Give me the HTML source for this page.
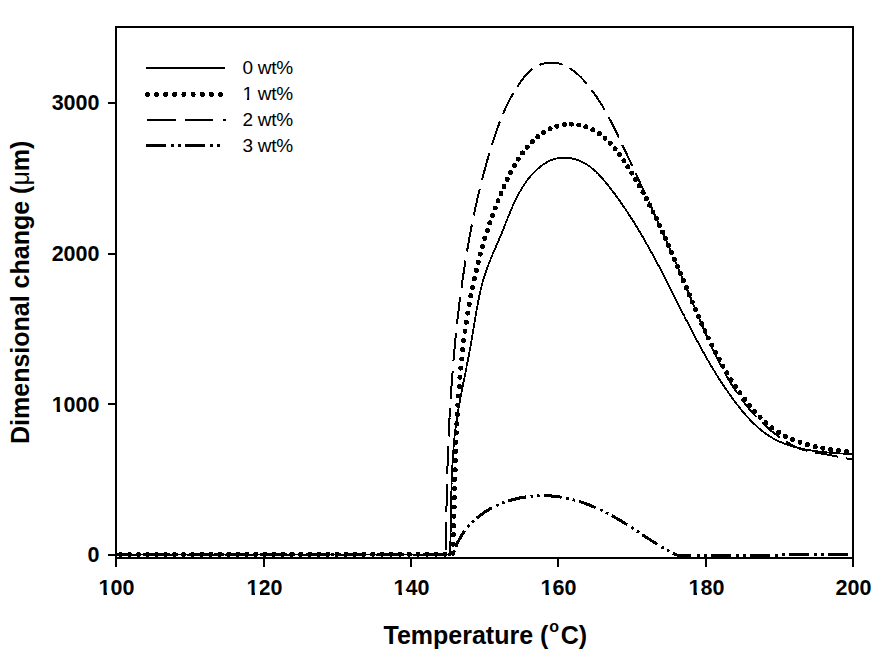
<!DOCTYPE html><html><head><meta charset="utf-8"><style>html,body{margin:0;padding:0;background:#fff;}svg{display:block;}</style></head><body><svg width="894" height="654" viewBox="0 0 894 654">
<rect width="894" height="654" fill="#fff"/>
<g fill="none" stroke="#000" stroke-linejoin="round" shape-rendering="crispEdges">
<path d="M116.0,554.5 L449.9,554.5 L450.0,553.0 L450.0,551.5 L450.1,550.0 L450.1,548.5 L450.2,547.0 L450.2,545.5 L450.3,544.0 L450.3,542.5 L450.4,541.0 L450.4,539.5 L450.4,538.0 L450.5,536.5 L450.5,535.0 L450.5,533.5 L450.6,532.1 L450.6,530.6 L450.6,529.1 L450.7,527.6 L450.7,526.1 L450.7,524.6 L450.8,523.1 L450.8,521.6 L450.8,520.1 L450.8,518.6 L450.9,517.1 L450.9,515.6 L450.9,514.1 L450.9,512.6 L451.0,511.1 L451.0,509.6 L451.0,508.1 L451.0,506.6 L451.1,505.0 L451.1,503.5 L451.1,502.0 L451.2,500.5 L451.2,499.0 L451.2,497.5 L451.3,496.0 L451.3,494.5 L451.3,493.0 L451.4,491.5 L451.4,490.0 L451.4,488.5 L451.5,487.0 L451.5,485.5 L451.6,484.0 L451.6,482.5 L451.7,481.0 L451.7,479.5 L451.8,478.0 L451.8,476.5 L451.9,475.1 L452.0,473.6 L452.0,472.1 L452.1,470.6 L452.2,469.1 L452.2,467.6 L452.3,466.1 L452.4,464.6 L452.5,463.1 L452.6,461.6 L452.7,460.1 L452.7,458.6 L452.8,457.1 L452.9,455.6 L453.0,454.1 L453.2,452.6 L453.3,451.1 L453.4,449.6 L453.5,448.1 L453.6,446.7 L453.8,445.2 L453.9,443.7 L454.0,442.2 L454.2,440.7 L454.3,439.2 L454.5,437.7 L454.6,436.2 L454.8,434.8 L455.0,433.3 L455.2,431.8 L455.3,430.3 L455.5,428.8 L455.7,427.3 L455.9,425.9 L456.1,424.4 L456.3,422.9 L456.5,421.4 L456.7,419.9 L457.0,418.5 L457.2,417.0 L457.4,415.5 L457.7,414.0 L457.9,412.6 L458.1,411.1 L458.4,409.6 L458.6,408.1 L458.9,406.7 L459.2,405.2 L459.4,403.7 L459.7,402.2 L459.9,400.8 L460.2,399.3 L460.5,397.8 L460.8,396.3 L461.0,394.9 L461.3,393.4 L461.6,391.9 L461.9,390.5 L462.2,389.0 L462.5,387.5 L462.7,386.0 L463.0,384.6 L463.3,383.1 L463.6,381.6 L463.9,380.2 L464.2,378.7 L464.5,377.2 L464.8,375.7 L465.1,374.3 L465.4,372.8 L465.7,371.3 L466.0,369.9 L466.3,368.4 L466.5,366.9 L466.8,365.4 L467.1,364.0 L467.4,362.5 L467.7,361.0 L468.0,359.5 L468.3,358.1 L468.6,356.6 L468.8,355.1 L469.1,353.6 L469.4,352.2 L469.7,350.7 L470.0,349.2 L470.2,347.7 L470.5,346.3 L470.8,344.8 L471.0,343.3 L471.3,341.8 L471.6,340.3 L471.8,338.9 L472.1,337.4 L472.3,335.9 L472.6,334.4 L472.8,332.9 L473.0,331.4 L473.3,330.0 L473.5,328.5 L473.8,327.0 L474.0,325.5 L474.3,324.0 L474.5,322.5 L474.7,321.1 L475.0,319.6 L475.2,318.1 L475.5,316.6 L475.7,315.1 L476.0,313.7 L476.2,312.2 L476.5,310.7 L476.7,309.2 L477.0,307.8 L477.3,306.3 L477.6,304.8 L477.8,303.4 L478.1,301.9 L478.4,300.4 L478.7,299.0 L479.0,297.5 L479.3,296.0 L479.6,294.6 L480.0,293.1 L480.3,291.7 L480.6,290.2 L481.0,288.8 L481.3,287.3 L481.7,285.9 L482.1,284.5 L482.4,283.0 L482.8,281.6 L483.2,280.2 L483.7,278.7 L484.1,277.3 L484.5,275.9 L485.0,274.5 L485.4,273.1 L485.9,271.7 L486.4,270.3 L486.9,268.9 L487.4,267.5 L487.9,266.1 L488.4,264.7 L489.0,263.3 L489.5,261.9 L490.1,260.5 L490.6,259.2 L491.2,257.8 L491.8,256.4 L492.3,255.0 L492.9,253.6 L493.5,252.3 L494.1,250.9 L494.7,249.5 L495.3,248.1 L495.9,246.8 L496.5,245.4 L497.1,244.0 L497.7,242.6 L498.3,241.2 L498.9,239.8 L499.4,238.5 L500.0,237.1 L500.6,235.7 L501.2,234.3 L501.8,232.9 L502.3,231.5 L502.9,230.1 L503.5,228.7 L504.0,227.3 L504.6,225.9 L505.2,224.5 L505.7,223.0 L506.3,221.6 L506.8,220.2 L507.4,218.8 L508.0,217.4 L508.5,216.0 L509.1,214.6 L509.7,213.2 L510.3,211.8 L510.8,210.4 L511.4,209.0 L512.0,207.7 L512.6,206.3 L513.2,204.9 L513.9,203.5 L514.5,202.2 L515.1,200.8 L515.8,199.5 L516.4,198.1 L517.1,196.8 L517.8,195.5 L518.5,194.2 L519.2,192.9 L519.9,191.6 L520.7,190.3 L521.4,189.0 L522.2,187.7 L523.0,186.5 L523.8,185.3 L524.6,184.0 L525.4,182.8 L526.3,181.6 L527.2,180.4 L528.1,179.2 L529.0,178.1 L530.0,176.9 L530.9,175.8 L531.9,174.7 L532.9,173.6 L534.0,172.5 L535.0,171.4 L536.1,170.4 L537.2,169.4 L538.4,168.3 L539.5,167.4 L540.7,166.4 L541.9,165.5 L543.2,164.6 L544.4,163.8 L545.7,163.0 L547.0,162.2 L548.4,161.5 L549.7,160.8 L551.1,160.2 L552.5,159.7 L553.9,159.2 L555.3,158.8 L556.8,158.4 L558.3,158.2 L559.8,157.9 L561.3,157.8 L562.8,157.7 L564.3,157.7 L565.8,157.7 L567.3,157.8 L568.9,158.0 L570.4,158.2 L571.9,158.5 L573.4,158.8 L574.8,159.2 L576.3,159.6 L577.7,160.1 L579.1,160.6 L580.5,161.2 L581.8,161.8 L583.1,162.4 L584.4,163.1 L585.7,163.8 L587.0,164.6 L588.2,165.4 L589.4,166.3 L590.6,167.1 L591.7,168.0 L592.8,169.0 L594.0,169.9 L595.1,170.9 L596.2,171.9 L597.2,173.0 L598.3,174.0 L599.3,175.1 L600.3,176.2 L601.3,177.3 L602.3,178.4 L603.3,179.6 L604.3,180.7 L605.3,181.9 L606.2,183.1 L607.2,184.2 L608.1,185.4 L609.1,186.6 L610.0,187.8 L610.9,189.0 L611.8,190.2 L612.7,191.4 L613.7,192.6 L614.6,193.8 L615.5,195.0 L616.3,196.2 L617.2,197.5 L618.1,198.7 L619.0,199.9 L619.9,201.1 L620.7,202.4 L621.6,203.6 L622.4,204.8 L623.3,206.1 L624.1,207.3 L625.0,208.6 L625.8,209.8 L626.7,211.0 L627.5,212.3 L628.3,213.6 L629.1,214.8 L629.9,216.1 L630.8,217.3 L631.6,218.6 L632.4,219.9 L633.2,221.1 L634.0,222.4 L634.7,223.7 L635.5,224.9 L636.3,226.2 L637.1,227.5 L637.9,228.8 L638.6,230.1 L639.4,231.3 L640.2,232.6 L640.9,233.9 L641.7,235.2 L642.5,236.5 L643.2,237.8 L644.0,239.1 L644.7,240.4 L645.4,241.7 L646.2,243.0 L646.9,244.3 L647.6,245.6 L648.4,246.9 L649.1,248.2 L649.8,249.5 L650.6,250.8 L651.3,252.1 L652.0,253.5 L652.7,254.8 L653.4,256.1 L654.1,257.4 L654.8,258.7 L655.6,260.0 L656.3,261.4 L657.0,262.7 L657.7,264.0 L658.4,265.3 L659.1,266.7 L659.8,268.0 L660.5,269.3 L661.1,270.6 L661.8,272.0 L662.5,273.3 L663.2,274.6 L663.9,276.0 L664.6,277.3 L665.3,278.6 L666.0,280.0 L666.6,281.3 L667.3,282.6 L668.0,284.0 L668.7,285.3 L669.4,286.6 L670.0,288.0 L670.7,289.3 L671.4,290.6 L672.1,292.0 L672.8,293.3 L673.4,294.7 L674.1,296.0 L674.8,297.3 L675.5,298.7 L676.1,300.0 L676.8,301.3 L677.5,302.7 L678.2,304.0 L678.8,305.4 L679.5,306.7 L680.2,308.0 L680.9,309.4 L681.5,310.7 L682.2,312.0 L682.9,313.4 L683.6,314.7 L684.3,316.0 L684.9,317.4 L685.6,318.7 L686.3,320.1 L687.0,321.4 L687.7,322.7 L688.4,324.1 L689.0,325.4 L689.7,326.7 L690.4,328.0 L691.1,329.4 L691.8,330.7 L692.5,332.0 L693.2,333.4 L693.9,334.7 L694.6,336.0 L695.3,337.3 L696.0,338.7 L696.7,340.0 L697.4,341.3 L698.1,342.6 L698.8,343.9 L699.5,345.3 L700.2,346.6 L701.0,347.9 L701.7,349.2 L702.4,350.5 L703.1,351.8 L703.9,353.1 L704.6,354.4 L705.3,355.7 L706.1,357.0 L706.8,358.3 L707.5,359.6 L708.3,360.9 L709.0,362.2 L709.8,363.5 L710.5,364.8 L711.3,366.1 L712.1,367.4 L712.8,368.7 L713.6,370.0 L714.4,371.2 L715.2,372.5 L716.0,373.8 L716.7,375.1 L717.5,376.3 L718.3,377.6 L719.1,378.9 L720.0,380.1 L720.8,381.4 L721.6,382.6 L722.4,383.9 L723.2,385.1 L724.1,386.4 L724.9,387.6 L725.8,388.9 L726.6,390.1 L727.5,391.3 L728.3,392.6 L729.2,393.8 L730.1,395.0 L730.9,396.2 L731.8,397.4 L732.7,398.7 L733.6,399.9 L734.5,401.1 L735.4,402.3 L736.3,403.5 L737.2,404.7 L738.2,405.9 L739.1,407.0 L740.0,408.2 L741.0,409.4 L741.9,410.6 L742.9,411.7 L743.9,412.9 L744.9,414.0 L745.8,415.2 L746.8,416.3 L747.8,417.4 L748.9,418.5 L749.9,419.6 L750.9,420.7 L752.0,421.8 L753.0,422.8 L754.1,423.9 L755.2,424.9 L756.3,425.9 L757.4,426.9 L758.5,427.9 L759.6,428.9 L760.7,429.8 L761.9,430.8 L763.0,431.7 L764.2,432.6 L765.4,433.4 L766.6,434.3 L767.8,435.1 L769.1,435.9 L770.3,436.7 L771.6,437.5 L772.8,438.2 L774.1,438.9 L775.4,439.6 L776.8,440.2 L778.1,440.9 L779.4,441.5 L780.8,442.1 L782.2,442.7 L783.5,443.2 L784.9,443.8 L786.3,444.3 L787.7,444.8 L789.2,445.3 L790.6,445.7 L792.0,446.2 L793.5,446.6 L794.9,447.0 L796.4,447.4 L797.9,447.8 L799.3,448.1 L800.8,448.5 L802.3,448.8 L803.8,449.1 L805.3,449.4 L806.8,449.7 L808.3,449.9 L809.8,450.2 L811.3,450.5 L812.8,450.7 L814.3,450.9 L815.8,451.1 L817.4,451.3 L818.9,451.5 L820.4,451.7 L821.9,451.9 L823.4,452.1 L824.9,452.2 L826.5,452.4 L828.0,452.5 L829.5,452.6 L831.0,452.8 L832.5,452.9 L834.0,453.0 L835.5,453.1 L837.0,453.2 L838.4,453.3 L839.9,453.4 L841.4,453.5 L842.8,453.6 L844.3,453.7 L845.8,453.8 L847.2,453.9 L848.6,454.0 L850.1,454.1 L851.5,454.2 L852.9,454.3" stroke-width="1.8"/>
<path d="M116.0,555.0 L117.0,555.0 L118.0,555.0 L119.0,555.0 L120.0,555.0 L121.0,555.0 L122.0,555.0 L123.0,555.0 L124.0,555.0 L125.0,555.0 L126.0,555.0 L127.0,555.0 L128.0,555.0 L129.0,555.0 L130.0,555.0 L131.0,555.0 L132.0,555.0 L133.0,555.0 L134.0,555.0 L135.0,555.0 L136.0,555.0 L137.0,555.0 L138.0,555.0 L139.0,555.0 L139.2,555.0 M148.7,555.0 L149.7,555.0 L150.7,555.0 L151.7,555.0 L152.7,555.0 L153.7,555.0 L154.7,555.0 L155.7,555.0 L156.7,555.0 L157.7,555.0 L158.7,555.0 L159.7,555.0 L160.7,555.0 L161.7,555.0 L162.7,555.0 L163.7,555.0 L164.7,555.0 L165.7,555.0 L166.7,555.0 L167.7,555.0 L168.7,555.0 L169.7,555.0 L170.7,555.0 L171.7,555.0 L172.7,555.0 L173.7,555.0 L174.7,555.0 L175.7,555.0 L176.7,555.0 L177.0,555.0 M186.5,555.0 L187.5,555.0 L188.5,555.0 L189.5,555.0 L190.5,555.0 L191.5,555.0 L192.5,555.0 L193.5,555.0 L194.5,555.0 L195.5,555.0 L196.5,555.0 L197.5,555.0 L198.5,555.0 L199.5,555.0 L200.5,555.0 L201.5,555.0 L202.5,555.0 L203.5,555.0 L204.5,555.0 L205.5,555.0 L206.5,555.0 L207.5,555.0 L208.5,555.0 L209.5,555.0 L210.5,555.0 L211.5,555.0 L212.5,555.0 L213.5,555.0 L214.5,555.0 L214.7,555.0 M224.5,555.0 L225.5,555.0 L226.5,555.0 L227.5,555.0 L228.5,555.0 L229.5,555.0 L230.5,555.0 L231.5,555.0 L232.5,555.0 L233.5,555.0 L234.5,555.0 L235.5,555.0 L236.4,555.0 L237.4,555.0 L238.4,555.0 L239.4,555.0 L240.4,555.0 L241.4,555.0 L242.4,555.0 L243.4,555.0 L244.4,555.0 L245.4,555.0 L246.4,555.0 L247.4,555.0 L248.4,555.0 L249.4,555.0 L250.4,555.0 L251.4,555.0 L252.4,555.0 L252.7,555.0 M262.2,555.0 L263.2,555.0 L264.2,555.0 L265.2,555.0 L266.2,555.0 L267.2,555.0 L268.2,555.0 L269.2,555.0 L270.2,555.0 L271.2,555.0 L272.2,555.0 L273.2,555.0 L274.2,555.0 L275.2,555.0 L276.2,555.0 L277.2,555.0 L278.2,555.0 L279.2,555.0 L280.2,555.0 L281.2,555.0 L282.2,555.0 L283.2,555.0 L284.2,555.0 L285.2,555.0 L286.2,555.0 L287.2,555.0 L288.2,555.0 L289.2,555.0 L290.2,555.0 L290.4,555.0 M299.9,555.0 L300.9,555.0 L301.9,555.0 L302.9,555.0 L303.9,555.0 L304.9,555.0 L305.9,555.0 L306.9,555.0 L307.9,555.0 L308.9,555.0 L309.9,555.0 L310.9,555.0 L311.9,555.0 L312.9,555.0 L313.9,555.0 L314.9,555.0 L315.9,555.0 L316.9,555.0 L317.9,555.0 L318.9,555.0 L319.9,555.0 L320.9,555.0 L321.9,555.0 L322.9,555.0 L323.9,555.0 L324.9,555.0 L325.9,555.0 L326.9,555.0 L327.9,555.0 L328.2,555.0 M337.7,555.0 L338.7,555.0 L339.7,555.0 L340.7,555.0 L341.7,555.0 L342.7,555.0 L343.7,555.0 L344.7,555.0 L345.7,555.0 L346.7,555.0 L347.7,555.0 L348.7,555.0 L349.7,555.0 L350.7,555.0 L351.7,555.0 L352.7,555.0 L353.7,555.0 L354.7,555.0 L355.7,555.0 L356.6,555.0 L357.6,555.0 L358.6,555.0 L359.6,555.0 L360.6,555.0 L361.6,555.0 L362.6,555.0 L363.6,555.0 L364.6,555.0 L365.6,555.0 L365.9,555.0 M375.6,555.0 L376.6,555.0 L377.6,555.0 L378.6,555.0 L379.6,555.0 L380.6,555.0 L381.6,555.0 L382.6,555.0 L383.6,555.0 L384.6,555.0 L385.6,555.0 L386.6,555.0 L387.6,555.0 L388.6,555.0 L389.6,555.0 L390.6,555.0 L391.6,555.0 L392.6,555.0 L393.6,555.0 L394.6,555.0 L395.6,555.0 L396.6,555.0 L397.6,555.0 L398.6,555.0 L399.6,555.0 L400.6,555.0 L401.6,555.0 L402.6,555.0 L403.6,555.0 L403.9,555.0 M413.4,555.0 L414.4,555.0 L415.4,555.0 L416.4,555.0 L417.4,555.0 L418.4,555.0 L419.4,555.0 L420.4,555.0 L421.4,555.0 L422.4,555.0 L423.4,555.0 L424.4,555.0 L425.4,555.0 L426.4,555.0 L427.4,555.0 L428.4,555.0 L429.4,555.0 L430.4,555.0 L431.4,555.0 L432.4,555.0 L433.4,555.0 L434.4,555.0 L435.4,555.0 L436.4,555.0 L437.4,555.0 L438.4,555.0 L439.4,555.0 L440.4,555.0 L441.4,555.0 L441.6,555.0 M445.9,549.8 L445.9,548.8 L445.9,547.8 L445.9,546.8 L445.9,545.8 L445.9,544.8 L446.0,543.8 L446.0,542.8 L446.0,541.8 L446.0,540.8 L446.0,539.8 L446.0,538.8 L446.0,537.8 L446.0,536.8 L446.0,535.8 L446.0,534.8 L446.1,533.8 L446.1,532.8 L446.1,531.8 L446.1,530.8 L446.1,529.8 L446.1,528.8 L446.1,527.8 L446.1,526.8 L446.2,525.8 L446.2,524.8 L446.2,523.8 L446.2,522.8 L446.2,521.8 L446.2,521.6 M446.4,512.1 L446.4,511.1 L446.4,510.1 L446.4,509.1 L446.4,508.1 L446.4,507.1 L446.5,506.1 L446.5,505.1 L446.5,504.1 L446.5,503.1 L446.5,502.1 L446.6,501.1 L446.6,500.1 L446.6,499.1 L446.6,498.1 L446.6,497.1 L446.7,496.1 L446.7,495.1 L446.7,494.1 L446.7,493.1 L446.8,492.1 L446.8,491.1 L446.8,490.1 L446.8,489.1 L446.9,488.1 L446.9,487.1 L446.9,486.1 L446.9,485.1 L447.0,484.1 L447.0,483.6 M447.2,474.1 L447.3,473.1 L447.3,472.1 L447.3,471.1 L447.3,470.1 L447.4,469.1 L447.4,468.1 L447.4,467.1 L447.5,466.1 L447.5,465.1 L447.5,464.1 L447.6,463.1 L447.6,462.1 L447.6,461.1 L447.7,460.1 L447.7,459.1 L447.7,458.2 L447.8,457.2 L447.8,456.2 L447.9,455.2 L447.9,454.2 L447.9,453.2 L448.0,452.2 L448.0,451.2 L448.0,450.2 L448.1,449.2 L448.1,448.2 L448.2,447.2 L448.2,446.2 L448.2,445.9 M448.6,436.5 L448.7,435.5 L448.7,434.5 L448.7,433.5 L448.8,432.5 L448.8,431.5 L448.9,430.5 L448.9,429.5 L449.0,428.5 L449.0,427.5 L449.1,426.5 L449.1,425.5 L449.2,424.5 L449.2,423.5 L449.3,422.5 L449.3,421.5 L449.4,420.5 L449.4,419.5 L449.5,418.5 L449.5,417.5 L449.6,416.5 L449.7,415.5 L449.7,414.5 L449.8,413.5 L449.8,412.5 L449.9,411.5 L449.9,410.5 L450.0,409.5 L450.0,408.5 L450.1,408.3 M450.6,398.6 L450.7,397.6 L450.8,396.6 L450.8,395.6 L450.9,394.6 L451.0,393.6 L451.0,392.6 L451.1,391.6 L451.2,390.6 L451.2,389.6 L451.3,388.6 L451.4,387.6 L451.4,386.6 L451.5,385.6 L451.6,384.6 L451.7,383.6 L451.7,382.6 L451.8,381.6 L451.9,380.7 L451.9,379.7 L452.0,378.7 L452.1,377.7 L452.2,376.7 L452.2,375.7 L452.3,374.7 L452.4,373.7 L452.5,372.7 L452.6,371.7 L452.6,370.7 L452.6,370.7 M453.4,361.3 L453.5,360.3 L453.6,359.3 L453.7,358.3 L453.7,357.3 L453.8,356.3 L453.9,355.3 L454.0,354.3 L454.1,353.3 L454.2,352.3 L454.3,351.3 L454.4,350.3 L454.5,349.3 L454.6,348.3 L454.6,347.3 L454.7,346.3 L454.8,345.3 L454.9,344.4 L455.0,343.4 L455.1,342.4 L455.2,341.4 L455.3,340.4 L455.4,339.4 L455.5,338.4 L455.6,337.4 L455.7,336.4 L455.8,335.4 L455.9,334.4 L456.0,333.4 L456.0,333.4 M457.0,324.3 L457.1,323.3 L457.2,322.3 L457.3,321.3 L457.4,320.3 L457.5,319.3 L457.6,318.3 L457.8,317.3 L457.9,316.3 L458.0,315.3 L458.1,314.3 L458.2,313.3 L458.3,312.3 L458.5,311.4 L458.6,310.4 L458.7,309.4 L458.8,308.4 L458.9,307.4 L459.1,306.4 L459.2,305.4 L459.3,304.4 L459.4,303.4 L459.5,302.4 L459.7,301.4 L459.8,300.5 L459.9,299.5 L460.0,298.5 L460.2,297.5 L460.2,297.0 M461.5,287.8 L461.6,286.8 L461.7,285.8 L461.9,284.9 L462.0,283.9 L462.1,282.9 L462.3,281.9 L462.4,280.9 L462.6,279.9 L462.7,278.9 L462.8,277.9 L463.0,276.9 L463.1,276.0 L463.3,275.0 L463.4,274.0 L463.6,273.0 L463.7,272.0 L463.9,271.0 L464.0,270.0 L464.2,269.0 L464.3,268.0 L464.5,267.1 L464.6,266.1 L464.8,265.1 L464.9,264.1 L465.1,263.1 L465.2,262.1 L465.4,261.1 L465.5,260.6 M467.0,251.5 L467.1,250.5 L467.3,249.5 L467.5,248.6 L467.6,247.6 L467.8,246.6 L468.0,245.6 L468.2,244.6 L468.3,243.6 L468.5,242.7 L468.7,241.7 L468.9,240.7 L469.0,239.7 L469.2,238.7 L469.4,237.7 L469.6,236.8 L469.8,235.8 L469.9,234.8 L470.1,233.8 L470.3,232.8 L470.5,231.8 L470.7,230.9 L470.9,229.9 L471.1,228.9 L471.2,227.9 L471.4,226.9 L471.6,226.0 L471.8,225.0 L471.9,224.5 M473.8,215.4 L474.0,214.5 L474.2,213.5 L474.4,212.5 L474.6,211.5 L474.8,210.6 L475.0,209.6 L475.2,208.6 L475.4,207.6 L475.6,206.6 L475.9,205.7 L476.1,204.7 L476.3,203.7 L476.5,202.7 L476.7,201.8 L476.9,200.8 L477.2,199.8 L477.4,198.9 L477.6,197.9 L477.8,196.9 L478.1,195.9 L478.3,195.0 L478.5,194.0 L478.8,193.0 L479.0,192.1 L479.2,191.1 L479.5,190.1 L479.7,189.1 L479.8,188.7 M482.0,179.7 L482.3,178.7 L482.5,177.8 L482.8,176.8 L483.0,175.8 L483.3,174.9 L483.6,173.9 L483.8,172.9 L484.1,172.0 L484.3,171.0 L484.6,170.1 L484.8,169.1 L485.1,168.1 L485.4,167.2 L485.6,166.2 L485.9,165.3 L486.2,164.3 L486.4,163.3 L486.7,162.4 L487.0,161.4 L487.3,160.5 L487.5,159.5 L487.8,158.5 L488.1,157.6 L488.4,156.6 L488.7,155.7 L488.9,154.7 L489.2,153.8 L489.4,153.3 M492.0,144.7 L492.3,143.7 L492.6,142.8 L492.9,141.8 L493.2,140.9 L493.5,139.9 L493.8,139.0 L494.1,138.0 L494.4,137.1 L494.7,136.2 L495.0,135.2 L495.4,134.3 L495.7,133.3 L496.0,132.4 L496.3,131.4 L496.7,130.5 L497.0,129.5 L497.3,128.6 L497.7,127.7 L498.0,126.7 L498.3,125.8 L498.7,124.9 L499.0,123.9 L499.4,123.0 L499.7,122.1 L499.9,121.6 M502.9,114.2 L503.3,113.3 L503.7,112.4 L504.1,111.5 L504.5,110.5 L504.9,109.6 L505.3,108.7 L505.7,107.8 L506.1,106.9 L506.6,106.0 L507.0,105.1 L507.4,104.3 L507.7,103.6 L508.1,102.8 L508.5,102.0 L508.9,101.2 L509.3,100.5 L509.7,99.7 L510.1,99.0 L510.5,98.2 L510.9,97.4 L511.3,96.7 L511.7,95.9 L512.1,95.2 L512.6,94.4 L513.0,93.7 L513.3,93.1 M517.4,86.5 L517.9,85.7 L518.4,85.0 L518.9,84.3 L519.4,83.5 L519.9,82.8 L520.4,82.1 L520.9,81.4 L521.4,80.7 L521.9,80.0 L522.5,79.3 L523.0,78.6 L523.5,77.9 L524.1,77.2 L524.7,76.5 L525.2,75.9 L525.8,75.2 L526.4,74.6 L527.0,73.9 L527.6,73.3 L528.2,72.7 L528.8,72.1 L529.5,71.4 L530.3,70.7 L531.0,70.1 L531.8,69.5 L532.6,68.9 L532.6,68.9 M539.6,64.9 L540.5,64.5 L541.5,64.2 L542.4,63.9 L543.4,63.6 L544.3,63.4 L545.3,63.2 L546.3,63.0 L547.3,62.9 L548.3,62.8 L549.2,62.7 L550.2,62.6 L551.2,62.6 L552.2,62.6 L553.1,62.7 L554.1,62.7 L555.0,62.8 L555.9,63.0 L556.9,63.1 L557.8,63.3 L558.7,63.5 L559.6,63.7 L560.5,64.0 L561.4,64.3 L562.3,64.6 L562.5,64.7 M569.5,68.1 L570.3,68.6 L571.2,69.2 L572.0,69.7 L572.8,70.3 L573.5,70.9 L574.3,71.5 L575.1,72.1 L575.9,72.7 L576.5,73.3 L577.2,73.8 L577.8,74.4 L578.5,75.0 L579.1,75.6 L579.7,76.2 L580.4,76.8 L581.0,77.4 L581.6,78.0 L582.2,78.7 L582.8,79.3 L583.4,80.0 L584.0,80.6 L584.6,81.3 L585.2,81.9 L585.8,82.6 L586.3,83.3 L586.8,83.8 M591.7,90.1 L592.2,90.8 L592.8,91.5 L593.3,92.2 L593.8,92.9 L594.3,93.6 L594.8,94.3 L595.3,95.0 L595.8,95.8 L596.3,96.5 L596.8,97.2 L597.3,97.9 L597.7,98.7 L598.2,99.4 L598.7,100.1 L599.2,100.8 L599.6,101.6 L600.1,102.3 L600.6,103.1 L601.0,103.8 L601.5,104.5 L601.9,105.3 L602.4,106.0 L602.8,106.7 L603.3,107.5 L603.7,108.2 L604.1,109.0 L604.6,109.7 L604.6,109.7 M608.4,116.7 L608.8,117.4 L609.2,118.2 L609.6,119.0 L610.0,119.7 L610.4,120.5 L610.9,121.3 L611.3,122.2 L611.8,123.1 L612.2,124.0 L612.7,124.9 L613.1,125.8 L613.6,126.7 L614.0,127.6 L614.5,128.5 L614.9,129.4 L615.4,130.3 L615.8,131.1 L616.2,132.0 L616.7,132.9 L617.1,133.8 L617.5,134.7 L618.0,135.6 L618.4,136.5 L618.8,137.4 L618.9,137.7 M622.3,144.9 L622.8,145.8 L623.2,146.7 L623.6,147.6 L624.0,148.5 L624.5,149.4 L624.9,150.3 L625.3,151.2 L625.7,152.1 L626.1,153.0 L626.6,153.9 L627.0,154.8 L627.4,155.7 L627.8,156.6 L628.3,157.5 L628.7,158.4 L629.1,159.2 L629.5,160.1 L629.9,161.0 L630.4,161.9 L630.8,162.8 L631.2,163.7 L631.6,164.6 L632.0,165.5 L632.3,166.0 M635.6,173.2 L636.0,174.1 L636.4,175.0 L636.9,175.9 L637.3,176.8 L637.7,177.7 L638.1,178.6 L638.5,179.5 L639.0,180.4 L639.4,181.3 L639.8,182.2 L640.2,183.1 L640.6,184.0 L641.0,184.9 L641.4,185.8 L641.9,186.7 L642.3,187.6 L642.7,188.5 L643.1,189.4 L643.5,190.3 L643.9,191.2 L644.4,192.1 L644.8,193.0 L645.2,193.9 L645.4,194.4 M648.7,201.6 L649.1,202.5 L649.5,203.4 L649.9,204.3 L650.3,205.2 L650.7,206.1 L651.2,207.0 L651.6,207.9 L652.0,208.8 L652.4,209.7 L652.8,210.6 L653.2,211.5 L653.6,212.4 L654.0,213.3 L654.4,214.2 L654.8,215.1 L655.2,216.0 L655.7,216.9 L656.1,217.8 L656.5,218.8 L656.9,219.7 L657.3,220.6 L657.7,221.5 L658.1,222.4 L658.4,223.1 M661.6,230.3 L662.0,231.2 L662.4,232.1 L662.9,233.1 L663.3,234.0 L663.7,234.9 L664.1,235.8 L664.5,236.7 L664.9,237.6 L665.3,238.5 L665.7,239.4 L666.1,240.3 L666.5,241.2 L666.9,242.2 L667.3,243.1 L667.7,244.0 L668.1,244.9 L668.5,245.8 L668.9,246.7 L669.3,247.6 L669.7,248.5 L670.1,249.5 L670.5,250.4 L670.9,251.3 L671.0,251.5 M674.2,258.9 L674.5,259.8 L674.9,260.7 L675.3,261.6 L675.7,262.4 L676.0,263.2 L676.4,264.0 L676.7,264.8 L677.0,265.5 L677.4,266.3 L677.7,267.1 L678.0,267.9 L678.4,268.7 L678.7,269.5 L679.1,270.3 L679.4,271.1 L679.7,271.9 L680.1,272.7 L680.4,273.4 L680.7,274.2 L681.1,275.0 L681.4,275.8 L681.7,276.6 L682.1,277.4 L682.4,278.2 L682.7,279.0 L683.1,279.8 L683.3,280.4 M686.3,287.5 L686.7,288.3 L687.0,289.1 L687.3,289.9 L687.7,290.7 L688.0,291.5 L688.3,292.3 L688.7,293.1 L689.0,293.9 L689.3,294.7 L689.6,295.5 L690.0,296.3 L690.3,297.1 L690.6,297.9 L691.0,298.7 L691.3,299.5 L691.6,300.3 L692.0,301.1 L692.3,301.9 L692.6,302.7 L692.9,303.5 L693.3,304.3 L693.6,305.1 L693.9,305.9 L694.3,306.7 L694.6,307.5 L694.9,308.3 L695.3,309.1 L695.3,309.1 M698.3,316.3 L698.6,317.1 L698.9,317.9 L699.3,318.7 L699.6,319.5 L699.9,320.3 L700.3,321.1 L700.6,321.9 L700.9,322.7 L701.3,323.5 L701.6,324.3 L701.9,325.1 L702.3,325.9 L702.6,326.7 L703.0,327.5 L703.3,328.3 L703.7,329.1 L704.0,329.9 L704.3,330.7 L704.7,331.5 L705.0,332.3 L705.4,333.1 L705.7,333.9 L706.1,334.7 L706.4,335.5 L706.8,336.3 L707.1,337.0 L707.5,337.8 L707.5,337.8 M710.7,344.9 L711.0,345.7 L711.4,346.5 L711.8,347.3 L712.1,348.0 L712.5,348.8 L712.9,349.6 L713.2,350.4 L713.6,351.1 L714.0,351.9 L714.3,352.7 L714.7,353.5 L715.1,354.2 L715.5,355.0 L715.8,355.8 L716.2,356.5 L716.6,357.3 L717.0,358.2 L717.5,359.1 L717.9,360.0 L718.4,360.9 L718.8,361.8 L719.3,362.7 L719.8,363.5 L720.2,364.4 L720.7,365.3 L720.9,365.7 M724.7,372.7 L725.2,373.6 L725.7,374.5 L726.2,375.3 L726.7,376.2 L727.2,377.0 L727.7,377.9 L728.2,378.7 L728.7,379.6 L729.2,380.4 L729.7,381.3 L730.2,382.1 L730.7,383.0 L731.2,383.8 L731.8,384.6 L732.3,385.5 L732.8,386.3 L733.3,387.1 L733.9,388.0 L734.4,388.8 L734.9,389.6 L735.5,390.4 L736.0,391.2 L736.6,392.1 L736.9,392.5 M741.5,399.1 L742.1,399.9 L742.7,400.6 L743.3,401.4 L743.9,402.2 L744.5,403.0 L745.1,403.7 L745.7,404.5 L746.3,405.3 L746.9,406.0 L747.5,406.8 L748.2,407.6 L748.8,408.3 L749.4,409.1 L750.0,409.8 L750.7,410.6 L751.3,411.3 L752.0,412.0 L752.6,412.8 L753.3,413.5 L753.9,414.2 L754.6,415.0 L755.2,415.7 L755.9,416.4 L756.4,416.9 M762.0,422.5 L762.7,423.2 L763.4,423.9 L764.1,424.6 L764.8,425.2 L765.6,425.9 L766.3,426.6 L767.1,427.2 L767.8,427.9 L768.6,428.5 L769.3,429.2 L770.1,429.8 L770.8,430.5 L771.6,431.1 L772.3,431.7 L773.0,432.2 L773.7,432.8 L774.3,433.3 L775.0,433.8 L775.7,434.4 L776.4,434.9 L777.1,435.4 L777.8,435.9 L778.5,436.4 L779.2,436.9 L779.7,437.3 M786.2,441.7 L787.0,442.1 L787.7,442.6 L788.5,443.0 L789.2,443.5 L790.0,443.9 L790.7,444.3 L791.5,444.7 L792.3,445.1 L793.0,445.5 L793.8,445.9 L794.6,446.3 L795.4,446.7 L796.2,447.0 L796.9,447.4 L797.7,447.7 L798.5,448.0 L799.3,448.4 L800.1,448.7 L801.0,449.0 L802.0,449.3 L802.9,449.7 L803.9,450.0 L804.8,450.2 L805.8,450.5 L806.7,450.8 L807.5,451.0 M815.3,452.6 L816.3,452.8 L817.2,452.9 L818.2,453.1 L819.2,453.3 L820.2,453.4 L821.2,453.6 L822.2,453.8 L823.2,453.9 L824.1,454.1 L825.1,454.3 L826.1,454.4 L827.1,454.6 L828.1,454.8 L829.1,455.0 L830.0,455.2 L831.0,455.3 L832.0,455.5 L833.0,455.7 L834.0,455.9 L834.9,456.1 L835.9,456.3 L836.9,456.5 L837.9,456.7 L838.1,456.7 M845.9,458.3 L846.9,458.5 L847.9,458.7 L848.8,458.9 L849.8,459.1 L850.8,459.3 L851.8,459.5 L852.7,459.7 L853.0,459.7" stroke-width="2"/>
<g fill="#000" stroke="none"><circle cx="120.7" cy="554.5" r="2.5"/><circle cx="129.7" cy="554.5" r="2.5"/><circle cx="138.7" cy="554.5" r="2.5"/><circle cx="147.7" cy="554.5" r="2.5"/><circle cx="156.7" cy="554.5" r="2.5"/><circle cx="165.7" cy="554.5" r="2.5"/><circle cx="174.7" cy="554.5" r="2.5"/><circle cx="183.7" cy="554.5" r="2.5"/><circle cx="192.7" cy="554.5" r="2.5"/><circle cx="201.7" cy="554.4" r="2.5"/><circle cx="210.7" cy="554.4" r="2.5"/><circle cx="219.7" cy="554.4" r="2.5"/><circle cx="228.7" cy="554.4" r="2.5"/><circle cx="237.7" cy="554.4" r="2.5"/><circle cx="246.7" cy="554.4" r="2.5"/><circle cx="255.7" cy="554.4" r="2.5"/><circle cx="264.7" cy="554.4" r="2.5"/><circle cx="273.7" cy="554.4" r="2.5"/><circle cx="282.7" cy="554.4" r="2.5"/><circle cx="291.7" cy="554.4" r="2.5"/><circle cx="300.7" cy="554.4" r="2.5"/><circle cx="309.7" cy="554.4" r="2.5"/><circle cx="318.7" cy="554.4" r="2.5"/><circle cx="327.7" cy="554.4" r="2.5"/><circle cx="336.9" cy="554.4" r="2.5"/><circle cx="345.9" cy="554.4" r="2.5"/><circle cx="354.9" cy="554.4" r="2.5"/><circle cx="363.9" cy="554.4" r="2.5"/><circle cx="372.9" cy="554.3" r="2.5"/><circle cx="381.9" cy="554.3" r="2.5"/><circle cx="390.9" cy="554.3" r="2.5"/><circle cx="399.9" cy="554.3" r="2.5"/><circle cx="408.9" cy="554.3" r="2.5"/><circle cx="417.9" cy="554.3" r="2.5"/><circle cx="426.9" cy="554.3" r="2.5"/><circle cx="435.9" cy="554.3" r="2.5"/><circle cx="444.9" cy="554.3" r="2.5"/><circle cx="452.9" cy="553.3" r="2.5"/><circle cx="453.2" cy="544.2" r="2.5"/><circle cx="453.4" cy="534.8" r="2.5"/><circle cx="453.7" cy="525.6" r="2.5"/><circle cx="453.9" cy="516.2" r="2.5"/><circle cx="454.1" cy="507.0" r="2.5"/><circle cx="454.3" cy="497.7" r="2.5"/><circle cx="454.5" cy="488.5" r="2.5"/><circle cx="454.8" cy="479.3" r="2.5"/><circle cx="455.1" cy="469.9" r="2.5"/><circle cx="455.3" cy="460.6" r="2.5"/><circle cx="455.7" cy="451.4" r="2.5"/><circle cx="456.0" cy="442.1" r="2.5"/><circle cx="456.4" cy="432.9" r="2.5"/><circle cx="456.8" cy="423.7" r="2.5"/><circle cx="457.3" cy="414.4" r="2.5"/><circle cx="457.9" cy="405.2" r="2.5"/><circle cx="458.5" cy="396.0" r="2.5"/><circle cx="459.2" cy="386.5" r="2.5"/><circle cx="459.9" cy="377.3" r="2.5"/><circle cx="460.7" cy="368.1" r="2.5"/><circle cx="461.7" cy="359.0" r="2.5"/><circle cx="462.7" cy="349.7" r="2.5"/><circle cx="463.8" cy="340.5" r="2.5"/><circle cx="465.0" cy="331.3" r="2.5"/><circle cx="466.3" cy="322.2" r="2.5"/><circle cx="467.7" cy="313.1" r="2.5"/><circle cx="469.2" cy="304.3" r="2.5"/><circle cx="470.8" cy="295.7" r="2.5"/><circle cx="472.5" cy="287.2" r="2.5"/><circle cx="474.3" cy="278.7" r="2.5"/><circle cx="476.2" cy="270.4" r="2.5"/><circle cx="478.2" cy="262.3" r="2.5"/><circle cx="480.3" cy="254.1" r="2.5"/><circle cx="482.5" cy="246.2" r="2.5"/><circle cx="484.8" cy="238.3" r="2.5"/><circle cx="487.3" cy="230.5" r="2.5"/><circle cx="489.8" cy="222.8" r="2.5"/><circle cx="492.5" cy="215.3" r="2.5"/><circle cx="495.2" cy="208.0" r="2.5"/><circle cx="498.0" cy="200.8" r="2.5"/><circle cx="501.0" cy="193.6" r="2.5"/><circle cx="504.0" cy="186.6" r="2.5"/><circle cx="507.3" cy="179.4" r="2.5"/><circle cx="510.7" cy="172.5" r="2.5"/><circle cx="514.4" cy="165.6" r="2.5"/><circle cx="518.3" cy="159.1" r="2.5"/><circle cx="522.5" cy="152.9" r="2.5"/><circle cx="527.1" cy="147.1" r="2.5"/><circle cx="532.2" cy="141.6" r="2.5"/><circle cx="537.8" cy="136.7" r="2.5"/><circle cx="543.6" cy="132.5" r="2.5"/><circle cx="550.1" cy="128.8" r="2.5"/><circle cx="556.9" cy="126.1" r="2.5"/><circle cx="564.2" cy="124.5" r="2.5"/><circle cx="571.4" cy="124.1" r="2.5"/><circle cx="578.8" cy="125.0" r="2.5"/><circle cx="585.9" cy="126.9" r="2.5"/><circle cx="592.8" cy="129.9" r="2.5"/><circle cx="599.2" cy="133.6" r="2.5"/><circle cx="605.0" cy="138.2" r="2.5"/><circle cx="610.2" cy="143.2" r="2.5"/><circle cx="615.1" cy="148.7" r="2.5"/><circle cx="619.6" cy="154.6" r="2.5"/><circle cx="623.9" cy="160.7" r="2.5"/><circle cx="627.9" cy="166.8" r="2.5"/><circle cx="631.8" cy="173.1" r="2.5"/><circle cx="635.6" cy="179.5" r="2.5"/><circle cx="639.3" cy="185.8" r="2.5"/><circle cx="642.9" cy="192.3" r="2.5"/><circle cx="646.3" cy="198.7" r="2.5"/><circle cx="649.7" cy="205.2" r="2.5"/><circle cx="653.0" cy="212.0" r="2.5"/><circle cx="656.2" cy="218.5" r="2.5"/><circle cx="659.4" cy="225.3" r="2.5"/><circle cx="662.5" cy="232.0" r="2.5"/><circle cx="665.5" cy="238.8" r="2.5"/><circle cx="668.5" cy="245.7" r="2.5"/><circle cx="671.5" cy="252.5" r="2.5"/><circle cx="674.4" cy="259.3" r="2.5"/><circle cx="677.4" cy="266.4" r="2.5"/><circle cx="680.4" cy="273.5" r="2.5"/><circle cx="683.3" cy="280.6" r="2.5"/><circle cx="686.3" cy="287.7" r="2.5"/><circle cx="689.3" cy="294.8" r="2.5"/><circle cx="692.3" cy="302.0" r="2.5"/><circle cx="695.5" cy="309.3" r="2.5"/><circle cx="698.6" cy="316.5" r="2.5"/><circle cx="701.8" cy="323.7" r="2.5"/><circle cx="705.0" cy="330.8" r="2.5"/><circle cx="708.4" cy="338.0" r="2.5"/><circle cx="711.9" cy="345.1" r="2.5"/><circle cx="715.5" cy="352.2" r="2.5"/><circle cx="719.2" cy="359.3" r="2.5"/><circle cx="722.9" cy="366.1" r="2.5"/><circle cx="726.9" cy="372.9" r="2.5"/><circle cx="731.1" cy="379.7" r="2.5"/><circle cx="735.4" cy="386.4" r="2.5"/><circle cx="739.9" cy="392.9" r="2.5"/><circle cx="744.6" cy="399.3" r="2.5"/><circle cx="749.5" cy="405.6" r="2.5"/><circle cx="754.6" cy="411.5" r="2.5"/><circle cx="760.1" cy="417.3" r="2.5"/><circle cx="765.8" cy="422.7" r="2.5"/><circle cx="771.9" cy="427.7" r="2.5"/><circle cx="778.6" cy="432.3" r="2.5"/><circle cx="785.4" cy="436.2" r="2.5"/><circle cx="792.6" cy="439.6" r="2.5"/><circle cx="800.0" cy="442.4" r="2.5"/><circle cx="807.4" cy="444.7" r="2.5"/><circle cx="815.2" cy="446.7" r="2.5"/><circle cx="822.8" cy="448.2" r="2.5"/><circle cx="830.7" cy="449.6" r="2.5"/><circle cx="838.6" cy="450.6" r="2.5"/><circle cx="846.6" cy="451.4" r="2.5"/></g>
<path d="M116.0,554.5 L117.0,554.5 L118.0,554.5 L119.0,554.5 L120.0,554.5 L121.0,554.5 L122.0,554.5 L123.0,554.5 L124.0,554.5 L125.0,554.5 L126.0,554.5 L127.0,554.5 L128.0,554.5 L129.0,554.5 L130.0,554.5 L131.0,554.5 L131.0,554.5 M136.2,554.5 L137.2,554.5 L138.2,554.5 L139.0,554.5 M143.2,554.5 L144.2,554.5 L145.2,554.5 L146.0,554.5 M150.2,554.5 L151.2,554.5 L152.2,554.5 L153.2,554.5 L154.2,554.5 L155.2,554.5 L156.2,554.5 L157.2,554.5 L158.2,554.5 L159.2,554.5 L160.2,554.5 L161.2,554.5 L162.2,554.5 L163.2,554.5 L164.2,554.5 L165.2,554.5 L166.2,554.5 L167.2,554.5 L168.2,554.5 L169.2,554.5 L170.0,554.5 M175.2,554.5 L176.2,554.5 L177.2,554.5 L178.0,554.5 M182.2,554.6 L183.2,554.6 L184.2,554.6 L185.0,554.6 M189.2,554.6 L190.2,554.6 L191.2,554.6 L192.2,554.6 L193.2,554.6 L194.2,554.6 L195.2,554.6 L196.2,554.6 L197.2,554.6 L198.2,554.6 L199.2,554.6 L200.2,554.6 L201.2,554.6 L202.2,554.6 L203.2,554.6 L204.2,554.6 L205.2,554.6 L206.2,554.6 L207.2,554.6 L208.2,554.6 L208.9,554.6 M214.2,554.6 L215.2,554.6 L216.2,554.6 L216.9,554.6 M221.2,554.6 L222.2,554.6 L223.2,554.6 L223.9,554.6 M228.2,554.6 L229.2,554.6 L230.2,554.6 L231.2,554.6 L232.2,554.6 L233.2,554.6 L234.2,554.6 L235.2,554.6 L236.2,554.6 L237.2,554.6 L238.2,554.6 L239.2,554.6 L240.2,554.6 L241.2,554.6 L242.2,554.6 L243.2,554.6 L244.2,554.6 L245.2,554.6 L246.2,554.6 L247.2,554.6 L247.9,554.6 M253.2,554.6 L254.2,554.6 L255.2,554.6 L255.9,554.6 M260.2,554.6 L261.2,554.6 L262.2,554.6 L262.9,554.6 M267.2,554.6 L268.2,554.6 L269.2,554.6 L270.2,554.6 L271.2,554.6 L272.2,554.6 L273.2,554.6 L274.2,554.6 L275.2,554.6 L276.2,554.6 L277.2,554.6 L278.2,554.6 L279.2,554.6 L280.2,554.6 L281.2,554.6 L282.2,554.6 L283.2,554.6 L284.2,554.6 L285.2,554.6 L286.2,554.6 L286.9,554.6 M292.1,554.6 L293.1,554.6 L294.1,554.6 L294.9,554.6 M299.1,554.6 L300.1,554.6 L301.1,554.6 L301.9,554.6 M306.1,554.6 L307.1,554.6 L308.1,554.6 L309.1,554.6 L310.1,554.6 L311.1,554.6 L312.1,554.6 L313.1,554.7 L314.1,554.7 L315.1,554.7 L316.1,554.7 L317.1,554.7 L318.1,554.7 L319.1,554.7 L320.1,554.7 L321.1,554.7 L322.1,554.7 L323.1,554.7 L324.1,554.7 L325.1,554.7 L325.9,554.7 M331.1,554.7 L332.1,554.7 L333.1,554.7 L333.9,554.7 M338.1,554.7 L339.1,554.7 L340.1,554.7 L340.9,554.7 M345.1,554.7 L346.1,554.7 L347.1,554.7 L348.1,554.7 L349.1,554.7 L350.1,554.7 L351.1,554.7 L352.1,554.7 L353.1,554.7 L354.1,554.7 L355.1,554.7 L356.1,554.7 L357.1,554.7 L358.1,554.7 L359.1,554.7 L360.1,554.7 L361.1,554.7 L362.1,554.7 L363.1,554.7 L364.1,554.7 L364.9,554.7 M370.1,554.7 L371.1,554.7 L372.1,554.7 L372.9,554.7 M377.1,554.7 L378.1,554.7 L379.1,554.7 L379.8,554.7 M384.1,554.7 L385.1,554.7 L386.1,554.7 L387.1,554.7 L388.1,554.7 L389.1,554.7 L390.1,554.7 L391.1,554.7 L392.1,554.7 L393.1,554.7 L394.1,554.7 L395.1,554.7 L396.1,554.7 L397.1,554.7 L398.1,554.7 L399.1,554.7 L400.1,554.7 L401.1,554.7 L402.1,554.7 L403.1,554.7 L403.8,554.7 M409.1,554.7 L410.1,554.7 L411.1,554.7 L411.8,554.7 M416.1,554.7 L417.1,554.7 L418.1,554.7 L418.8,554.7 M423.1,554.7 L424.1,554.7 L425.1,554.7 L426.1,554.7 L427.1,554.7 L428.1,554.7 L429.1,554.7 L430.1,554.7 L431.1,554.7 L432.1,554.7 L433.1,554.7 L434.1,554.7 L435.1,554.7 L436.1,554.7 L437.1,554.7 L438.1,554.7 L439.1,554.7 L440.1,554.7 L441.1,554.7 L442.1,554.7 L442.8,554.7 M448.1,554.8 L449.1,554.8 L450.1,554.8 L450.8,554.8 M453.6,552.8 L453.9,551.9 L454.2,551.1 L454.5,550.2 L454.5,550.2 M455.9,546.7 L456.2,545.8 L456.5,545.0 L456.9,544.2 L457.3,543.4 L457.6,542.6 L458.0,541.9 L458.4,541.1 L458.8,540.3 L459.2,539.5 L459.6,538.8 L460.1,538.0 L460.5,537.3 L460.9,536.6 L461.4,535.7 L462.0,534.9 L462.5,534.1 L463.1,533.2 L463.6,532.4 L464.2,531.6 L464.8,530.8 L464.8,530.8 M467.7,527.2 L468.3,526.4 L469.0,525.7 L469.5,525.1 M472.2,522.3 L472.9,521.6 L473.6,520.9 L474.0,520.6 M476.9,518.0 L477.6,517.4 L478.4,516.8 L479.2,516.2 L479.9,515.6 L480.7,515.0 L481.5,514.4 L482.3,513.8 L483.1,513.3 L483.9,512.7 L484.7,512.2 L485.5,511.6 L486.4,511.1 L487.2,510.6 L488.0,510.1 L488.9,509.6 L489.7,509.1 L490.6,508.6 L491.5,508.1 L491.9,507.9 M496.3,505.7 L497.2,505.3 L498.1,504.9 L498.6,504.7 M502.2,503.1 L503.2,502.8 L504.1,502.4 L504.6,502.3 M508.3,501.0 L509.3,500.7 L510.2,500.4 L511.2,500.1 L512.1,499.9 L512.9,499.6 L513.7,499.4 L514.5,499.2 L515.4,499.0 L516.2,498.8 L517.0,498.6 L517.9,498.4 L518.7,498.2 L519.6,498.0 L520.4,497.9 L521.3,497.7 L522.1,497.5 L522.9,497.4 L523.8,497.2 L524.6,497.1 L525.5,497.0 L525.9,496.9 M530.6,496.3 L531.5,496.2 L532.3,496.2 L533.2,496.1 L533.2,496.1 M537.1,495.8 L537.9,495.8 L538.8,495.8 L539.6,495.7 L539.6,495.7 M543.5,495.7 L544.4,495.7 L545.4,495.7 L546.4,495.8 L547.4,495.8 L548.4,495.8 L549.4,495.9 L550.4,495.9 L551.4,496.0 L552.4,496.1 L553.3,496.2 L554.3,496.3 L555.3,496.4 L556.3,496.5 L557.3,496.6 L558.3,496.8 L559.3,496.9 L560.2,497.0 L561.2,497.2 L561.7,497.3 M566.3,498.1 L567.3,498.3 L568.2,498.5 L569.0,498.7 M572.6,499.6 L573.5,499.8 L574.5,500.1 L575.2,500.3 M579.0,501.4 L579.9,501.7 L580.8,502.0 L581.8,502.3 L582.7,502.6 L583.7,502.9 L584.6,503.3 L585.5,503.6 L586.5,503.9 L587.4,504.3 L588.3,504.6 L589.2,505.0 L590.2,505.4 L591.1,505.7 L592.0,506.1 L592.9,506.5 L593.8,506.9 L594.8,507.2 L595.7,507.6 L595.9,507.7 M600.2,509.7 L601.1,510.1 L602.0,510.6 L602.5,510.8 M606.0,512.5 L606.9,513.0 L607.8,513.5 L608.2,513.7 M611.8,515.6 L612.5,516.0 L613.3,516.4 L614.0,516.8 L614.8,517.3 L615.5,517.7 L616.3,518.1 L617.0,518.5 L617.8,519.0 L618.5,519.4 L619.2,519.9 L620.0,520.3 L620.7,520.7 L621.4,521.2 L622.2,521.6 L622.9,522.1 L623.6,522.5 L624.4,523.0 L625.1,523.4 L626.0,524.0 L626.8,524.5 L627.2,524.8 M631.4,527.5 L632.3,528.0 L633.1,528.6 L633.5,528.8 M636.9,531.0 L637.7,531.6 L638.5,532.1 L639.0,532.4 M642.3,534.6 L643.1,535.1 L643.9,535.7 L644.8,536.2 L645.6,536.8 L646.4,537.3 L647.3,537.9 L648.1,538.4 L648.9,538.9 L649.8,539.5 L650.6,540.0 L651.4,540.6 L652.2,541.1 L653.1,541.6 L653.9,542.1 L654.7,542.7 L655.6,543.2 L656.4,543.7 L657.3,544.2 L657.5,544.4 M661.7,546.9 L662.5,547.4 L663.3,547.9 L663.8,548.1 M667.2,550.1 L668.0,550.5 L668.9,551.0 L669.5,551.3 M672.9,553.1 L673.8,553.6 L674.7,554.0 L675.5,554.4 L676.4,554.8 L677.3,555.2 L678.2,555.5 L679.2,555.5 L680.2,555.5 L681.2,555.5 L682.2,555.5 L683.2,555.5 L684.2,555.5 L685.2,555.5 L686.2,555.5 L687.2,555.5 L688.2,555.5 L689.2,555.5 L690.2,555.5 L691.2,555.5 L691.4,555.5 M696.9,555.4 L697.9,555.4 L698.9,555.4 L699.7,555.4 M703.9,555.4 L704.9,555.4 L705.9,555.4 L706.7,555.4 M710.9,555.4 L711.9,555.3 L712.9,555.3 L713.9,555.3 L714.9,555.3 L715.9,555.3 L716.9,555.3 L717.9,555.3 L718.9,555.3 L719.9,555.3 L720.9,555.3 L721.9,555.3 L722.9,555.3 L723.9,555.3 L724.9,555.3 L725.9,555.3 L726.9,555.3 L727.9,555.2 L728.9,555.2 L729.9,555.2 L730.6,555.2 M735.9,555.2 L736.9,555.2 L737.9,555.2 L738.6,555.2 M742.9,555.2 L743.9,555.2 L744.9,555.1 L745.6,555.1 M749.9,555.1 L750.9,555.1 L751.9,555.1 L752.9,555.1 L753.9,555.1 L754.9,555.1 L755.9,555.1 L756.8,555.1 L757.8,555.1 L758.8,555.1 L759.8,555.1 L760.8,555.1 L761.8,555.0 L762.8,555.0 L763.8,555.0 L764.8,555.0 L765.8,555.0 L766.8,555.0 L767.8,555.0 L768.8,555.0 L769.6,555.0 M774.8,555.0 L775.8,555.0 L776.8,555.0 L777.6,555.0 M781.8,554.9 L782.8,554.9 L783.8,554.9 L784.6,554.9 M788.8,554.9 L789.8,554.9 L790.8,554.9 L791.8,554.9 L792.8,554.9 L793.8,554.9 L794.8,554.8 L795.8,554.8 L796.8,554.8 L797.8,554.8 L798.8,554.8 L799.8,554.8 L800.8,554.8 L801.8,554.8 L802.8,554.8 L803.8,554.8 L804.8,554.8 L805.8,554.8 L806.8,554.8 L807.8,554.8 L808.5,554.8 M813.8,554.7 L814.8,554.7 L815.8,554.7 L816.5,554.7 M820.8,554.7 L821.8,554.7 L822.8,554.7 L823.5,554.7 M827.8,554.7 L828.8,554.6 L829.8,554.6 L830.8,554.6 L831.8,554.6 L832.8,554.6 L833.8,554.6 L834.8,554.6 L835.8,554.6 L836.8,554.6 L837.8,554.6 L838.8,554.6 L839.8,554.6 L840.8,554.6 L841.8,554.6 L842.8,554.6 L843.8,554.6 L844.8,554.5 L845.8,554.5 L846.8,554.5 L847.5,554.5 M852.8,554.5 L853.0,554.5" stroke-width="3"/>
</g>
<rect x="116" y="27" width="737" height="531" fill="none" stroke="#000" stroke-width="2" shape-rendering="crispEdges"/>
<path d="M108,555 H116 M108,404.3 H116 M108,253.7 H116 M108,103 H116 M116,557 V567 M264,557 V567 M411,557 V567 M558,557 V567 M706,557 V567 M853,557 V567" stroke="#000" stroke-width="2" fill="none" shape-rendering="crispEdges"/>
<text x="99.5" y="562.2" text-anchor="end" font-family='"Liberation Sans", sans-serif' font-weight="bold" font-size="21.5">0</text>
<text x="99.5" y="411.5" text-anchor="end" font-family='"Liberation Sans", sans-serif' font-weight="bold" font-size="21.5">1000</text>
<text x="99.5" y="260.9" text-anchor="end" font-family='"Liberation Sans", sans-serif' font-weight="bold" font-size="21.5">2000</text>
<text x="99.5" y="110.2" text-anchor="end" font-family='"Liberation Sans", sans-serif' font-weight="bold" font-size="21.5">3000</text>
<text x="116.5" y="594.6" text-anchor="middle" font-family='"Liberation Sans", sans-serif' font-weight="bold" font-size="21.5">100</text>
<text x="264.5" y="594.6" text-anchor="middle" font-family='"Liberation Sans", sans-serif' font-weight="bold" font-size="21.5">120</text>
<text x="411.5" y="594.6" text-anchor="middle" font-family='"Liberation Sans", sans-serif' font-weight="bold" font-size="21.5">140</text>
<text x="558.5" y="594.6" text-anchor="middle" font-family='"Liberation Sans", sans-serif' font-weight="bold" font-size="21.5">160</text>
<text x="706.5" y="594.6" text-anchor="middle" font-family='"Liberation Sans", sans-serif' font-weight="bold" font-size="21.5">180</text>
<text x="853.5" y="594.6" text-anchor="middle" font-family='"Liberation Sans", sans-serif' font-weight="bold" font-size="21.5">200</text>
<text x="383.5" y="643.5" font-family='"Liberation Sans", sans-serif' font-weight="bold" font-size="25">Temperature (<tspan font-size="16" dy="-11.5" dx="1">o</tspan><tspan dy="11.5" dx="1.5">C)</tspan></text>
<text transform="translate(29,444) rotate(-90)" font-family='"Liberation Sans", sans-serif' font-weight="bold" font-size="25">Dimensional change (<tspan font-weight="normal">μ</tspan>m)</text>
<g fill="none" stroke="#000" shape-rendering="crispEdges">
<path d="M146,68 H225" stroke-width="2"/>
<g fill="#000" stroke="none"><circle cx="147.5" cy="94.4" r="2.5"/><circle cx="156.6" cy="94.4" r="2.5"/><circle cx="165.7" cy="94.4" r="2.5"/><circle cx="174.8" cy="94.4" r="2.5"/><circle cx="183.9" cy="94.4" r="2.5"/><circle cx="193.1" cy="94.4" r="2.5"/><circle cx="202.2" cy="94.4" r="2.5"/><circle cx="211.3" cy="94.4" r="2.5"/><circle cx="220.4" cy="94.4" r="2.5"/></g>
<path d="M147,120 H226" stroke-width="2" stroke-dasharray="28.5 9.3"/>
<path d="M146,145.5 H224" stroke-width="3" stroke-dasharray="20 5 3 4 3 4"/>
</g>
<text x="242.5" y="73.8" font-family='"Liberation Sans", sans-serif' font-size="19" letter-spacing="-0.25">0 wt%</text>
<text x="242.5" y="99.69999999999999" font-family='"Liberation Sans", sans-serif' font-size="19" letter-spacing="-0.25">1 wt%</text>
<text x="242.5" y="125.6" font-family='"Liberation Sans", sans-serif' font-size="19" letter-spacing="-0.25">2 wt%</text>
<text x="242.5" y="151.5" font-family='"Liberation Sans", sans-serif' font-size="19" letter-spacing="-0.25">3 wt%</text>
<g fill="#fff" shape-rendering="crispEdges"><rect x="64" y="408" width="1" height="1" fill="rgb(255,255,255)"/><rect x="53" y="409" width="1" height="1" fill="rgb(255,255,255)"/><rect x="54" y="409" width="1" height="1" fill="rgb(255,255,255)"/><rect x="55" y="409" width="1" height="1" fill="rgb(255,255,255)"/><rect x="56" y="409" width="1" height="1" fill="rgb(195,195,195)"/><rect x="60" y="409" width="1" height="1" fill="rgb(241,241,241)"/><rect x="61" y="409" width="1" height="1" fill="rgb(255,255,255)"/><rect x="62" y="409" width="1" height="1" fill="rgb(255,255,255)"/><rect x="63" y="409" width="1" height="1" fill="rgb(255,255,255)"/><rect x="64" y="409" width="1" height="1" fill="rgb(255,255,255)"/><rect x="52" y="410" width="1" height="1" fill="rgb(255,255,255)"/><rect x="53" y="410" width="1" height="1" fill="rgb(255,255,255)"/><rect x="54" y="410" width="1" height="1" fill="rgb(255,255,255)"/><rect x="55" y="410" width="1" height="1" fill="rgb(255,255,255)"/><rect x="56" y="410" width="1" height="1" fill="rgb(195,195,195)"/><rect x="60" y="410" width="1" height="1" fill="rgb(241,241,241)"/><rect x="61" y="410" width="1" height="1" fill="rgb(255,255,255)"/><rect x="62" y="410" width="1" height="1" fill="rgb(255,255,255)"/><rect x="63" y="410" width="1" height="1" fill="rgb(255,255,255)"/><rect x="52" y="411" width="1" height="1" fill="rgb(255,255,255)"/><rect x="53" y="411" width="1" height="1" fill="rgb(255,255,255)"/><rect x="54" y="411" width="1" height="1" fill="rgb(255,255,255)"/><rect x="55" y="411" width="1" height="1" fill="rgb(255,255,255)"/><rect x="56" y="411" width="1" height="1" fill="rgb(195,195,195)"/><rect x="60" y="411" width="1" height="1" fill="rgb(241,241,241)"/><rect x="61" y="411" width="1" height="1" fill="rgb(255,255,255)"/><rect x="62" y="411" width="1" height="1" fill="rgb(255,255,255)"/><rect x="63" y="411" width="1" height="1" fill="rgb(255,255,255)"/><rect x="111" y="591" width="1" height="1" fill="rgb(255,255,255)"/><rect x="99" y="592" width="1" height="1" fill="rgb(255,255,255)"/><rect x="100" y="592" width="1" height="1" fill="rgb(255,255,255)"/><rect x="101" y="592" width="1" height="1" fill="rgb(255,255,255)"/><rect x="102" y="592" width="1" height="1" fill="rgb(255,255,255)"/><rect x="103" y="592" width="1" height="1" fill="rgb(137,137,137)"/><rect x="107" y="592" width="1" height="1" fill="rgb(253,253,253)"/><rect x="108" y="592" width="1" height="1" fill="rgb(255,255,255)"/><rect x="109" y="592" width="1" height="1" fill="rgb(255,255,255)"/><rect x="111" y="592" width="1" height="1" fill="rgb(255,255,255)"/><rect x="99" y="593" width="1" height="1" fill="rgb(255,255,255)"/><rect x="100" y="593" width="1" height="1" fill="rgb(255,255,255)"/><rect x="101" y="593" width="1" height="1" fill="rgb(255,255,255)"/><rect x="102" y="593" width="1" height="1" fill="rgb(255,255,255)"/><rect x="103" y="593" width="1" height="1" fill="rgb(137,137,137)"/><rect x="107" y="593" width="1" height="1" fill="rgb(253,253,253)"/><rect x="108" y="593" width="1" height="1" fill="rgb(255,255,255)"/><rect x="109" y="593" width="1" height="1" fill="rgb(255,255,255)"/><rect x="110" y="593" width="1" height="1" fill="rgb(255,255,255)"/><rect x="99" y="594" width="1" height="1" fill="rgb(255,255,255)"/><rect x="100" y="594" width="1" height="1" fill="rgb(255,255,255)"/><rect x="101" y="594" width="1" height="1" fill="rgb(255,255,255)"/><rect x="102" y="594" width="1" height="1" fill="rgb(255,255,255)"/><rect x="103" y="594" width="1" height="1" fill="rgb(137,137,137)"/><rect x="107" y="594" width="1" height="1" fill="rgb(253,253,253)"/><rect x="108" y="594" width="1" height="1" fill="rgb(255,255,255)"/><rect x="109" y="594" width="1" height="1" fill="rgb(255,255,255)"/><rect x="110" y="594" width="1" height="1" fill="rgb(255,255,255)"/><rect x="259" y="591" width="1" height="1" fill="rgb(255,255,255)"/><rect x="247" y="592" width="1" height="1" fill="rgb(255,255,255)"/><rect x="248" y="592" width="1" height="1" fill="rgb(255,255,255)"/><rect x="249" y="592" width="1" height="1" fill="rgb(255,255,255)"/><rect x="250" y="592" width="1" height="1" fill="rgb(255,255,255)"/><rect x="251" y="592" width="1" height="1" fill="rgb(137,137,137)"/><rect x="255" y="592" width="1" height="1" fill="rgb(253,253,253)"/><rect x="256" y="592" width="1" height="1" fill="rgb(255,255,255)"/><rect x="257" y="592" width="1" height="1" fill="rgb(255,255,255)"/><rect x="258" y="592" width="1" height="1" fill="rgb(255,255,255)"/><rect x="259" y="592" width="1" height="1" fill="rgb(255,255,255)"/><rect x="247" y="593" width="1" height="1" fill="rgb(255,255,255)"/><rect x="248" y="593" width="1" height="1" fill="rgb(255,255,255)"/><rect x="249" y="593" width="1" height="1" fill="rgb(255,255,255)"/><rect x="250" y="593" width="1" height="1" fill="rgb(255,255,255)"/><rect x="251" y="593" width="1" height="1" fill="rgb(137,137,137)"/><rect x="255" y="593" width="1" height="1" fill="rgb(253,253,253)"/><rect x="256" y="593" width="1" height="1" fill="rgb(255,255,255)"/><rect x="257" y="593" width="1" height="1" fill="rgb(255,255,255)"/><rect x="258" y="593" width="1" height="1" fill="rgb(255,255,255)"/><rect x="259" y="593" width="1" height="1" fill="rgb(255,255,255)"/><rect x="247" y="594" width="1" height="1" fill="rgb(255,255,255)"/><rect x="248" y="594" width="1" height="1" fill="rgb(255,255,255)"/><rect x="249" y="594" width="1" height="1" fill="rgb(255,255,255)"/><rect x="250" y="594" width="1" height="1" fill="rgb(255,255,255)"/><rect x="251" y="594" width="1" height="1" fill="rgb(137,137,137)"/><rect x="255" y="594" width="1" height="1" fill="rgb(253,253,253)"/><rect x="256" y="594" width="1" height="1" fill="rgb(255,255,255)"/><rect x="257" y="594" width="1" height="1" fill="rgb(255,255,255)"/><rect x="258" y="594" width="1" height="1" fill="rgb(255,255,255)"/><rect x="259" y="594" width="1" height="1" fill="rgb(255,255,255)"/><rect x="405" y="591" width="1" height="1" fill="rgb(255,255,255)"/><rect x="406" y="591" width="1" height="1" fill="rgb(255,255,255)"/><rect x="394" y="592" width="1" height="1" fill="rgb(255,255,255)"/><rect x="395" y="592" width="1" height="1" fill="rgb(255,255,255)"/><rect x="396" y="592" width="1" height="1" fill="rgb(255,255,255)"/><rect x="397" y="592" width="1" height="1" fill="rgb(255,255,255)"/><rect x="398" y="592" width="1" height="1" fill="rgb(137,137,137)"/><rect x="402" y="592" width="1" height="1" fill="rgb(253,253,253)"/><rect x="403" y="592" width="1" height="1" fill="rgb(255,255,255)"/><rect x="404" y="592" width="1" height="1" fill="rgb(255,255,255)"/><rect x="394" y="593" width="1" height="1" fill="rgb(255,255,255)"/><rect x="395" y="593" width="1" height="1" fill="rgb(255,255,255)"/><rect x="396" y="593" width="1" height="1" fill="rgb(255,255,255)"/><rect x="397" y="593" width="1" height="1" fill="rgb(255,255,255)"/><rect x="398" y="593" width="1" height="1" fill="rgb(137,137,137)"/><rect x="402" y="593" width="1" height="1" fill="rgb(253,253,253)"/><rect x="403" y="593" width="1" height="1" fill="rgb(255,255,255)"/><rect x="404" y="593" width="1" height="1" fill="rgb(255,255,255)"/><rect x="405" y="593" width="1" height="1" fill="rgb(255,255,255)"/><rect x="394" y="594" width="1" height="1" fill="rgb(255,255,255)"/><rect x="395" y="594" width="1" height="1" fill="rgb(255,255,255)"/><rect x="396" y="594" width="1" height="1" fill="rgb(255,255,255)"/><rect x="397" y="594" width="1" height="1" fill="rgb(255,255,255)"/><rect x="398" y="594" width="1" height="1" fill="rgb(137,137,137)"/><rect x="402" y="594" width="1" height="1" fill="rgb(253,253,253)"/><rect x="403" y="594" width="1" height="1" fill="rgb(255,255,255)"/><rect x="404" y="594" width="1" height="1" fill="rgb(255,255,255)"/><rect x="405" y="594" width="1" height="1" fill="rgb(255,255,255)"/><rect x="553" y="591" width="1" height="1" fill="rgb(255,255,255)"/><rect x="541" y="592" width="1" height="1" fill="rgb(255,255,255)"/><rect x="542" y="592" width="1" height="1" fill="rgb(255,255,255)"/><rect x="543" y="592" width="1" height="1" fill="rgb(255,255,255)"/><rect x="544" y="592" width="1" height="1" fill="rgb(255,255,255)"/><rect x="545" y="592" width="1" height="1" fill="rgb(137,137,137)"/><rect x="549" y="592" width="1" height="1" fill="rgb(253,253,253)"/><rect x="550" y="592" width="1" height="1" fill="rgb(255,255,255)"/><rect x="551" y="592" width="1" height="1" fill="rgb(255,255,255)"/><rect x="553" y="592" width="1" height="1" fill="rgb(255,255,255)"/><rect x="541" y="593" width="1" height="1" fill="rgb(255,255,255)"/><rect x="542" y="593" width="1" height="1" fill="rgb(255,255,255)"/><rect x="543" y="593" width="1" height="1" fill="rgb(255,255,255)"/><rect x="544" y="593" width="1" height="1" fill="rgb(255,255,255)"/><rect x="545" y="593" width="1" height="1" fill="rgb(137,137,137)"/><rect x="549" y="593" width="1" height="1" fill="rgb(253,253,253)"/><rect x="550" y="593" width="1" height="1" fill="rgb(255,255,255)"/><rect x="551" y="593" width="1" height="1" fill="rgb(255,255,255)"/><rect x="552" y="593" width="1" height="1" fill="rgb(255,255,255)"/><rect x="541" y="594" width="1" height="1" fill="rgb(255,255,255)"/><rect x="542" y="594" width="1" height="1" fill="rgb(255,255,255)"/><rect x="543" y="594" width="1" height="1" fill="rgb(255,255,255)"/><rect x="544" y="594" width="1" height="1" fill="rgb(255,255,255)"/><rect x="545" y="594" width="1" height="1" fill="rgb(137,137,137)"/><rect x="549" y="594" width="1" height="1" fill="rgb(253,253,253)"/><rect x="550" y="594" width="1" height="1" fill="rgb(255,255,255)"/><rect x="551" y="594" width="1" height="1" fill="rgb(255,255,255)"/><rect x="552" y="594" width="1" height="1" fill="rgb(255,255,255)"/><rect x="700" y="591" width="1" height="1" fill="rgb(255,255,255)"/><rect x="701" y="591" width="1" height="1" fill="rgb(255,255,255)"/><rect x="689" y="592" width="1" height="1" fill="rgb(255,255,255)"/><rect x="690" y="592" width="1" height="1" fill="rgb(255,255,255)"/><rect x="691" y="592" width="1" height="1" fill="rgb(255,255,255)"/><rect x="692" y="592" width="1" height="1" fill="rgb(255,255,255)"/><rect x="693" y="592" width="1" height="1" fill="rgb(137,137,137)"/><rect x="697" y="592" width="1" height="1" fill="rgb(253,253,253)"/><rect x="698" y="592" width="1" height="1" fill="rgb(255,255,255)"/><rect x="699" y="592" width="1" height="1" fill="rgb(255,255,255)"/><rect x="701" y="592" width="1" height="1" fill="rgb(255,255,255)"/><rect x="689" y="593" width="1" height="1" fill="rgb(255,255,255)"/><rect x="690" y="593" width="1" height="1" fill="rgb(255,255,255)"/><rect x="691" y="593" width="1" height="1" fill="rgb(255,255,255)"/><rect x="692" y="593" width="1" height="1" fill="rgb(255,255,255)"/><rect x="693" y="593" width="1" height="1" fill="rgb(137,137,137)"/><rect x="697" y="593" width="1" height="1" fill="rgb(253,253,253)"/><rect x="698" y="593" width="1" height="1" fill="rgb(255,255,255)"/><rect x="699" y="593" width="1" height="1" fill="rgb(255,255,255)"/><rect x="700" y="593" width="1" height="1" fill="rgb(255,255,255)"/><rect x="701" y="593" width="1" height="1" fill="rgb(255,255,255)"/><rect x="689" y="594" width="1" height="1" fill="rgb(255,255,255)"/><rect x="690" y="594" width="1" height="1" fill="rgb(255,255,255)"/><rect x="691" y="594" width="1" height="1" fill="rgb(255,255,255)"/><rect x="692" y="594" width="1" height="1" fill="rgb(255,255,255)"/><rect x="693" y="594" width="1" height="1" fill="rgb(137,137,137)"/><rect x="697" y="594" width="1" height="1" fill="rgb(253,253,253)"/><rect x="698" y="594" width="1" height="1" fill="rgb(255,255,255)"/><rect x="699" y="594" width="1" height="1" fill="rgb(255,255,255)"/><rect x="700" y="594" width="1" height="1" fill="rgb(255,255,255)"/><rect x="243" y="98" width="1" height="1" fill="rgb(255,255,255)"/><rect x="244" y="98" width="1" height="1" fill="rgb(255,255,255)"/><rect x="245" y="98" width="1" height="1" fill="rgb(255,255,255)"/><rect x="246" y="98" width="1" height="1" fill="rgb(247,247,247)"/><rect x="249" y="98" width="1" height="1" fill="rgb(217,217,217)"/><rect x="250" y="98" width="1" height="1" fill="rgb(255,255,255)"/><rect x="251" y="98" width="1" height="1" fill="rgb(255,255,255)"/><rect x="252" y="98" width="1" height="1" fill="rgb(255,255,255)"/><rect x="243" y="99" width="1" height="1" fill="rgb(255,255,255)"/><rect x="244" y="99" width="1" height="1" fill="rgb(255,255,255)"/><rect x="245" y="99" width="1" height="1" fill="rgb(255,255,255)"/><rect x="246" y="99" width="1" height="1" fill="rgb(247,247,247)"/><rect x="249" y="99" width="1" height="1" fill="rgb(217,217,217)"/><rect x="250" y="99" width="1" height="1" fill="rgb(255,255,255)"/><rect x="251" y="99" width="1" height="1" fill="rgb(255,255,255)"/><rect x="252" y="99" width="1" height="1" fill="rgb(255,255,255)"/></g>
</svg></body></html>
